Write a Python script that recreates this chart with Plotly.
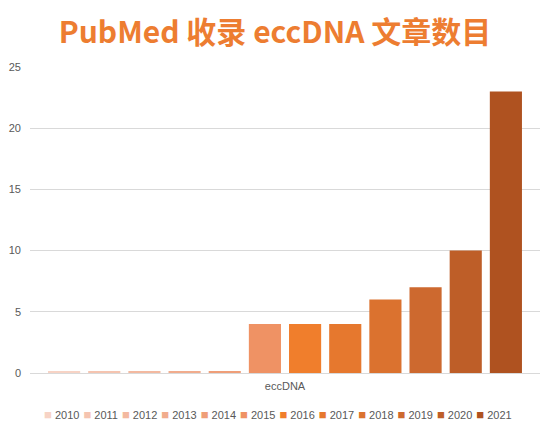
import plotly.graph_objects as go

categories = ["eccDNA"]
years = ["2010", "2011", "2012", "2013", "2014", "2015",
         "2016", "2017", "2018", "2019", "2020", "2021"]
counts = [0.1, 0.1, 0.1, 0.1, 0.1, 4, 4, 4, 6, 7, 10, 23]
colors = ["#F7D3C5", "#F5C4B0", "#F3B9A0", "#F1AC8D", "#EF9E78", "#EF9264",
          "#F07E2C", "#E6782E", "#DB722F", "#CD692F", "#BE5E28", "#AF5220"]

fig = go.Figure()
for year, value, color in zip(years, counts, colors):
    fig.add_bar(
        name=year,
        x=categories,
        y=[value],
        marker_color=color,
        marker_line_width=0,
    )

# compact legend row, built as text (plotly's own legend is too wide here)
legend_text = "\u00a0\u200a".join(
    f"<span style='color:{c};font-size:13px'>■</span> {y}" for y, c in zip(years, colors)
)
fig.add_annotation(
    text=legend_text,
    xref="paper", yref="paper",
    x=0.486, xanchor="center",
    y=-0.137, yanchor="middle",
    showarrow=False,
    font={"size": 11, "color": "#595959"},
)

# page body adds a margin, so the figure is sized to fit the window
fig.update_layout(
    width=546,
    height=428,
    barmode="group",
    bargap=0.055,
    bargroupgap=0.2,
    paper_bgcolor="white",
    plot_bgcolor="white",
    font={"family": "Liberation Sans, Noto Sans CJK SC", "color": "#595959", "size": 11},
    title={
        "text": "<b>PubMed 收录 eccDNA 文章数目</b>",
        "x": 0.489,
        "xanchor": "center",
        "y": 0.943,
        "yanchor": "middle",
        "font": {"family": "Noto Sans CJK SC", "size": 30, "color": "#ED7D31"},
    },
    margin={"l": 22, "r": 14, "t": 59, "b": 63, "autoexpand": False},
    showlegend=False,
    xaxis={"showgrid": False, "showline": True, "linecolor": "#D9D9D9",
           "ticks": "", "ticklabelstandoff": 3,
           "tickfont": {"size": 11, "color": "#595959"}},
    yaxis={"range": [0, 25], "dtick": 5, "showgrid": True, "gridcolor": "#D9D9D9",
           "zeroline": False, "ticks": "", "ticklabelstandoff": 8,
           "tickfont": {"size": 11, "color": "#595959"}},
)

fig.write_html("out.html")
